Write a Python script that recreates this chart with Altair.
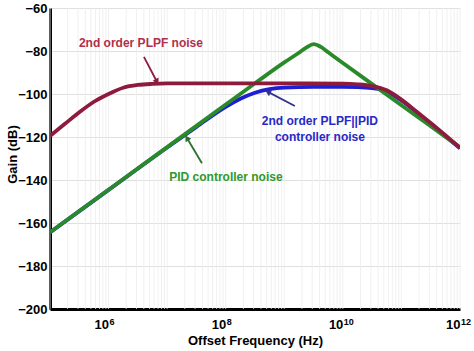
import altair as alt
import pandas as pd

# ---- data (x as log10 of frequency in Hz, y in dB) ----
red_exp = [5.0, 5.25, 5.5, 5.75, 6.0, 6.25, 6.5, 6.75, 7.0, 8.0, 9.0, 10.0, 10.25, 10.5, 10.75, 11.0, 11.25, 11.5, 11.75, 12.0]
red_db = [-119.5, -114.0, -108.5, -103.6, -100.0, -97.1, -95.8, -95.3, -95.1, -95.1, -95.1, -95.2, -95.5, -96.3, -98.3, -102.6, -108.0, -113.5, -119.2, -125.0]

green_exp = [5.0, 6.0, 7.0, 8.0, 8.5, 9.0, 9.25, 9.375, 9.5, 9.625, 9.75, 10.0, 10.5, 11.0, 11.5, 12.0]
green_db = [-164.3, -144.5, -124.7, -104.9, -95.0, -85.3, -80.8, -78.4, -76.8, -78.1, -80.6, -85.6, -95.4, -105.2, -115.0, -124.8]

blue_exp = [5.0, 6.0, 7.0, 7.5, 8.0, 8.25, 8.5, 8.75, 9.0, 9.5, 10.0, 10.25, 10.5, 10.75, 11.0, 11.5, 12.0]
blue_db = [-164.4, -144.6, -124.9, -115.3, -106.0, -102.2, -99.4, -97.7, -97.0, -96.7, -96.7, -96.8, -97.3, -98.8, -103.0, -114.0, -125.3]

tick_freqs = [1e6, 1e8, 1e10, 1e12]
tick_powers = ["6", "8", "10", "12"]
gain_ticks = [-200, -180, -160, -140, -120, -100, -80, -60]

label_texts = ["2nd order PLPF noise", "2nd order PLPF||PID", "controller noise", "PID controller noise"]
label_exp = [6.553, 9.608, 9.608, 8.003]
label_db = [-76.1, -112.6, -120.0, -138.7]
label_colors = ["#B0304C", "#2828C8", "#2828C8", "#2E9A2E"]

arrow_from_exp = [6.604, 9.181, 7.594]
arrow_from_db = [-82.7, -105.6, -132.2]
arrow_to_exp = [6.826, 8.720, 7.338]
arrow_to_db = [-94.3, -99.0, -120.5]
arrow_angle = [152.5, 297.4, 329.0]
arrow_colors = ["#8E1B3E", "#33338F", "#2F6F2F"]

RED, GREEN, BLUE = "#8E1B3E", "#2A8A2A", "#1E1ED2"
FONT = "Liberation Sans"


def frame(exps, dbs):
    return pd.DataFrame({"freq": [10 ** e for e in exps], "gain": dbs})


x_scale = alt.Scale(type="log", domain=[1e5, 1e12], nice=False)
y_scale = alt.Scale(domain=[-200, -60], nice=False)

X_AXIS = alt.Axis(
    values=tick_freqs, grid=False, ticks=False,
    labelExpr="'10'",
    labelFont=FONT, labelFontWeight="bold", labelFontSize=13, labelColor="black",
    labelPadding=9, labelFlush=False, labelAlign="right",
    domainColor="black", domainWidth=3,
    title="Offset Frequency  (Hz)", titleFont=FONT, titleFontWeight="bold",
    titleFontSize=13, titleColor="black", titlePadding=3,
)
Y_AXIS = alt.Axis(
    values=gain_ticks, grid=True, gridColor="#dcdcdc", gridWidth=0.9,
    ticks=False, domainColor="black", domainWidth=3,
    labelFont=FONT, labelFontWeight="bold", labelFontSize=13, labelColor="black",
    labelPadding=3,
    title="Gain (dB)", titleFont=FONT, titleFontWeight="bold", titleFontSize=13,
    titleColor="black", titleAngle=270, titleX=-38, titleY=146,
    titleAlign="center", titleBaseline="middle",
)


def X(field):
    return alt.X(field, type="quantitative", scale=x_scale, axis=X_AXIS)


def Y(field):
    return alt.Y(field, type="quantitative", scale=y_scale, axis=Y_AXIS)


grid_freqs = [k * 10 ** n for n in range(5, 12) for k in range(1, 10)] + [1e12]
grid = alt.Chart(pd.DataFrame({"freq": grid_freqs})).mark_rule(
    color="#ececec", strokeWidth=0.8
).encode(x=X("freq"))


def line_layer(df, color):
    return alt.Chart(df).mark_line(
        color=color, strokeWidth=3.8, interpolate="monotone", clip=True
    ).encode(x=X("freq"), y=Y("gain"))


blue_line = line_layer(frame(blue_exp, blue_db), BLUE)
green_line = line_layer(frame(green_exp, green_db), GREEN)
red_line = line_layer(frame(red_exp, red_db), RED)

labels_df = pd.DataFrame({
    "text": label_texts,
    "freq": [10 ** e for e in label_exp],
    "gain": label_db,
    "color": label_colors,
})
labels = alt.Chart(labels_df).mark_text(
    font=FONT, fontWeight="bold", fontSize=12, align="center", baseline="middle"
).encode(
    x=X("freq"), y=Y("gain"),
    text="text:N",
    color=alt.Color("color:N", scale=None),
)

powers_df = pd.DataFrame({"freq": tick_freqs, "gain": [-200] * len(tick_freqs), "p": tick_powers})
powers = alt.Chart(powers_df).mark_text(
    font=FONT, fontWeight="bold", fontSize=9, align="left", baseline="middle",
    dx=1, dy=13, color="black", clip=False
).encode(x=X("freq"), y=Y("gain"), text="p:N")

arrows_df = pd.DataFrame({
    "freq": [10 ** e for e in arrow_from_exp],
    "gain": arrow_from_db,
    "f2": [10 ** e for e in arrow_to_exp],
    "g2": arrow_to_db,
    "angle": arrow_angle,
    "color": arrow_colors,
})
arrow_shafts = alt.Chart(arrows_df).mark_rule(strokeWidth=1.8).encode(
    x=X("freq"), y=Y("gain"),
    x2="f2:Q", y2="g2:Q",
    color=alt.Color("color:N", scale=None),
)
arrow_heads = alt.Chart(arrows_df).mark_point(
    shape="triangle-up", filled=True, size=45, opacity=1
).encode(
    x=X("f2"), y=Y("g2"),
    angle=alt.Angle("angle:Q", scale=None),
    color=alt.Color("color:N", scale=None),
)

chart = alt.layer(
    grid, blue_line, green_line, red_line, arrow_shafts, arrow_heads, labels, powers
).properties(
    width=410, height=301,
    autosize=alt.AutoSizeParams(type="none"),
    padding={"left": 50, "top": 8, "right": 14, "bottom": 42},
).configure_view(stroke=None)

chart.save("out.html", embed_options={"renderer": "svg", "actions": False})
